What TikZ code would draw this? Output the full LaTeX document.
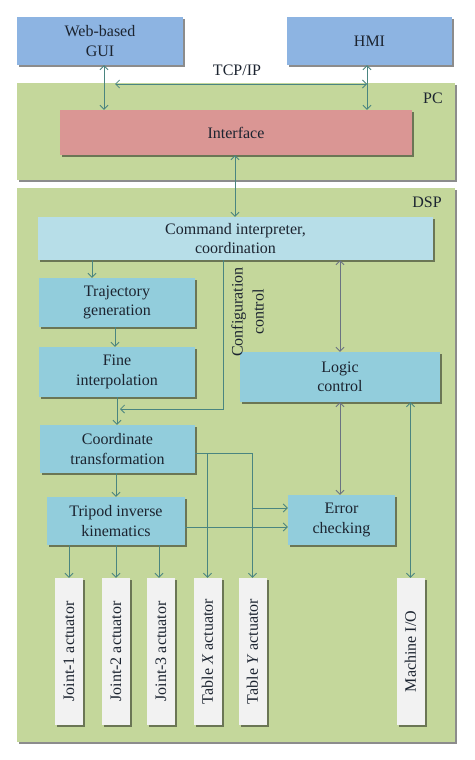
\documentclass[tikz,border=0pt]{standalone}
\usepackage{fontspec}
\setmainfont{Liberation Serif}
\usetikzlibrary{arrows.meta,shadows}
\definecolor{topblue}{HTML}{8DB4E2}
\definecolor{panelgreen}{HTML}{C4D79B}
\definecolor{ifpink}{HTML}{DA9694}
\definecolor{cmdblue}{HTML}{B7DEE8}
\definecolor{procblue}{HTML}{92CDDC}
\definecolor{actgray}{HTML}{F2F2F2}
\definecolor{linecol}{HTML}{4A8580}
\definecolor{graycol}{HTML}{6A7382}
\definecolor{txtcol}{HTML}{1C2430}
\begin{document}
\begin{tikzpicture}[x=1pt,y=-1pt,
  every node/.style={text=txtcol,font=\fontsize{16}{19.5}\selectfont},
  box/.style={rectangle,inner sep=0pt,align=center,
    drop shadow={shadow xshift=2pt,shadow yshift=-2pt,fill=black,opacity=0.45}},
  panel/.style={box,fill=panelgreen},
  topbox/.style={box,fill=topblue},
  ifbox/.style={box,fill=ifpink},
  cmdbox/.style={box,fill=cmdblue},
  procbox/.style={box,fill=procblue},
  actbox/.style={box,fill=actgray,minimum width=28pt,minimum height=147pt},
  arr/.style={draw=linecol,line width=0.8pt,-{Straight Barb[length=4pt,width=8pt]}},
  darr/.style={draw=linecol,line width=0.8pt,{Straight Barb[length=4pt,width=8pt]}-{Straight Barb[length=4pt,width=8pt]}},
  gdarr/.style={darr,draw=graycol},
  ln/.style={draw=linecol,line width=0.8pt}
]
\useasboundingbox (0,0) rectangle (474,760);
\fill[white] (0,0) rectangle (474,760);

% top boxes
\node[topbox,minimum width=166pt,minimum height=48pt] (gui) at (100,41) {Web-based\\GUI};
\node[topbox,minimum width=165pt,minimum height=48pt] (hmi) at (369.5,41) {HMI};

% PC panel
\node[panel,minimum width=438pt,minimum height=97pt] (pc) at (236,131.5) {};
\node[anchor=center] (pclbl) at (433,98) {PC};
\node[ifbox,minimum width=352pt,minimum height=45pt] (iface) at (236,132.5) {Interface};

% DSP panel
\node[panel,minimum width=438pt,minimum height=554pt] (dsp) at (236,465) {};
\node (dsplbl) at (427,202) {DSP};

\node[cmdbox,minimum width=395pt,minimum height=43pt] (cmd) at (235.5,238.5) {Command interpreter,\\coordination};
\node[procbox,minimum width=156pt,minimum height=49pt] (traj) at (117,302.5) {Trajectory\\generation};
\node[procbox,minimum width=156pt,minimum height=50pt] (fine) at (117,372) {Fine\\interpolation};
\node[procbox,minimum width=200pt,minimum height=50pt] (logic) at (340,377) {Logic\\control};
\node[procbox,minimum width=155pt,minimum height=48pt] (coord) at (117.5,449) {Coordinate\\transformation};
\node[procbox,minimum width=138pt,minimum height=48pt] (tripod) at (116,521) {Tripod inverse\\kinematics};
\node[procbox,minimum width=107pt,minimum height=50pt] (err) at (341.5,520) {Error\\checking};

\node[actbox] (j1) at (69,651.5) {\rotatebox{90}{Joint-1 actuator}};
\node[actbox] (j2) at (116,651.5) {\rotatebox{90}{Joint-2 actuator}};
\node[actbox] (j3) at (161,651.5) {\rotatebox{90}{Joint-3 actuator}};
\node[actbox] (tx) at (207.5,651.5) {\rotatebox{90}{Table \textit{X} actuator}};
\node[actbox] (ty) at (252.5,651.5) {\rotatebox{90}{Table \textit{Y} actuator}};
\node[actbox] (mio) at (410.5,651.5) {\rotatebox{90}{Machine I/O}};

% labels
\node (tcp) at (237,70) {TCP/IP};
\node[rotate=90,align=center,font=\fontsize{16}{21}\selectfont] (cfg) at (247.5,312) {Configuration\\control};

% connectors top
\draw[darr] (104,0 |- gui.south) -- (104,0 |- iface.north);
\draw[darr] (367,0 |- hmi.south) -- (367,0 |- iface.north);
\coordinate (tcpl) at (115,84);
\coordinate (tcpr) at (367,84);
\draw[darr] (tcpl) -- (tcpr);
\draw[darr] (235,0 |- iface.south) -- (235,0 |- cmd.north);

% DSP connectors
\draw[arr] (92,0 |- cmd.south) -- (92,0 |- traj.north);
\draw[arr] (115,0 |- traj.south) -- (115,0 |- fine.north);
\draw[arr] (117,0 |- fine.south) -- (117,0 |- coord.north);
\coordinate (cfgc) at (223,409);
\draw[arr] (223,0 |- cmd.south) -- (cfgc) -- (120,409);
\draw[gdarr] (340,0 |- cmd.south) -- (340,0 |- logic.north);
\draw[gdarr] (340,0 |- logic.south) -- (340,0 |- err.north);
\draw[darr] (410.5,0 |- logic.south) -- (mio.north);
\draw[arr] (116,0 |- coord.south) -- (116,0 |- tripod.north);

\coordinate (cr) at (252.5,453);
\coordinate (cx) at (207.5,453);
\draw[ln] (coord.east |- cr) -- (cr);
\draw[arr] (cr) -- (ty.north);
\draw[arr] (cx) -- (tx.north);
\coordinate (eb) at (252.5,508);
\draw[arr] (eb) -- (err.west |- eb);
\draw[arr] (tripod.east |- 0,527) -- (err.west |- 0,527);

\draw[arr] (69,0 |- tripod.south) -- (j1.north);
\draw[arr] (116,0 |- tripod.south) -- (j2.north);
\draw[arr] (159,0 |- tripod.south) -- (159,0 |- j3.north);
\end{tikzpicture}
\end{document}
